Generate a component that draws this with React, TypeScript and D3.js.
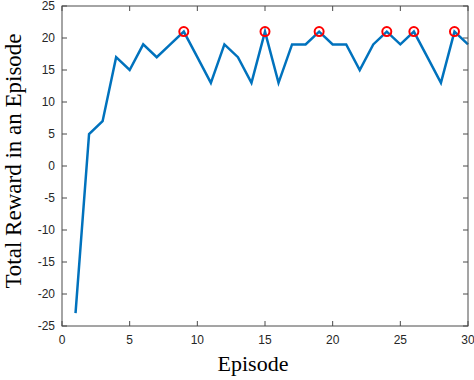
import React from "react";
import * as d3 from "d3";

const episodes = [1,2,3,4,5,6,7,8,9,10,11,12,13,14,15,16,17,18,19,20,21,22,23,24,25,26,27,28,29,30];
const rewards = [-23,5,7,17,15,19,17,19,21,17,13,19,17,13,21,13,19,19,21,19,19,15,19,21,19,21,17,13,21,19];
const markedEpisodes = [9,15,19,24,26,29];
const xTicks = [0,5,10,15,20,25,30];
const yTicks = [-25,-20,-15,-10,-5,0,5,10,15,20,25];

const W = 474, H = 380;
const m = { left: 62, right: 6, top: 6, bottom: 54 };

export default function App() {
  const x = d3.scaleLinear().domain([0, 30]).range([m.left, W - m.right]);
  const y = d3.scaleLinear().domain([-25, 25]).range([H - m.bottom, m.top]);
  const data = episodes.map((e, i) => ({ e, r: rewards[i] }));
  const line = d3.line<{ e: number; r: number }>().x(d => x(d.e)).y(d => y(d.r));
  const x0 = x(0), x1 = x(30), y0 = y(-25), y1 = y(25);
  const axisColor = "#4a4a4a";
  const tick = 5;
  return (
    <svg width={W} height={H} style={{ position: "absolute", left: 0, top: 0, background: "#fff" }}>
      <rect x={0} y={0} width={W} height={H} fill="#fff" />
      <g stroke={axisColor} strokeWidth={1}>
        {xTicks.map(t => (
          <g key={"xt" + t}>
            <line x1={x(t)} x2={x(t)} y1={y0} y2={y0 - tick} />
            <line x1={x(t)} x2={x(t)} y1={y1} y2={y1 + tick} />
          </g>
        ))}
        {yTicks.map(t => (
          <g key={"yt" + t}>
            <line x1={x0} x2={x0 + tick} y1={y(t)} y2={y(t)} />
            <line x1={x1} x2={x1 - tick} y1={y(t)} y2={y(t)} />
          </g>
        ))}
      </g>
      <path d={line(data) || ""} fill="none" stroke="#0072BD" strokeWidth={2.5} strokeLinejoin="miter" />
      {data.filter(d => markedEpisodes.includes(d.e)).map(d => (
        <circle key={"m" + d.e} cx={x(d.e)} cy={y(d.r)} r={4.5} fill="none" stroke="#ff0000" strokeWidth={2} />
      ))}
      <rect x={x0} y={y1} width={x1 - x0} height={y0 - y1} fill="none" stroke={axisColor} strokeWidth={1} />
      <g fontFamily="'Liberation Sans', Arial, sans-serif" fontSize={12} fill="#262626">
        {xTicks.map(t => (
          <text key={"xl" + t} x={x(t)} y={y0 + 18} textAnchor="middle">{t}</text>
        ))}
        {yTicks.map(t => (
          <text key={"yl" + t} x={x0 - 7} y={y(t) + 4} textAnchor="end">{t}</text>
        ))}
      </g>
      <text x={(x0 + x1) / 2 - 12} y={371} textAnchor="middle" fontFamily="'Liberation Serif', 'Times New Roman', serif" fontSize={22} fill="#000">Episode</text>
      <text transform={`translate(21, ${161}) rotate(-90)`} textAnchor="middle" fontFamily="'Liberation Serif', 'Times New Roman', serif" fontSize={23} fill="#000">Total Reward in an Episode</text>
    </svg>
  );
}
